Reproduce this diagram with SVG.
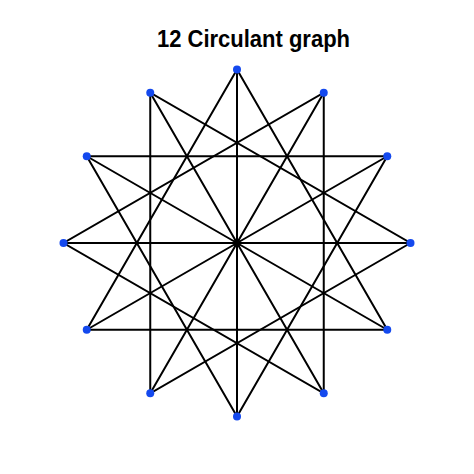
<svg xmlns="http://www.w3.org/2000/svg" width="474" height="474" viewBox="0 0 474 474">
<style>
.e{stroke:#000;stroke-width:2;fill:none;stroke-linecap:round}
.v{fill:#1449ee}
.t{font-family:"Liberation Sans",Arial,sans-serif;font-weight:bold;font-size:23px;fill:#000}
</style>
<rect width="474" height="474" fill="#fff"/>
<text class="t" x="253.5" y="47" text-anchor="middle" textLength="193" lengthAdjust="spacingAndGlyphs">12 Circulant graph</text>
<g id="edges">
<path class="e" d="M237,69.5L387.26,329.75L86.74,329.75Z"/>
<path class="e" d="M323.75,92.74L323.75,393.26L63.5,243Z"/>
<path class="e" d="M387.26,156.25L237,416.5L86.74,156.25Z"/>
<path class="e" d="M410.5,243L150.25,393.26L150.25,92.74Z"/>
<path class="e" d="M237,69.5L237,416.5M323.75,92.74L150.25,393.26M387.26,156.25L86.74,329.75M410.5,243L63.5,243M387.26,329.75L86.74,156.25M323.75,393.26L150.25,92.74"/>
</g>
<g id="n0"><circle class="v" cx="237" cy="69.5" r="4"/></g>
<g id="n1"><circle class="v" cx="323.75" cy="92.74" r="4"/></g>
<g id="n2"><circle class="v" cx="387.26" cy="156.25" r="4"/></g>
<g id="n3"><circle class="v" cx="410.5" cy="243" r="4"/></g>
<g id="n4"><circle class="v" cx="387.26" cy="329.75" r="4"/></g>
<g id="n5"><circle class="v" cx="323.75" cy="393.26" r="4"/></g>
<g id="n6"><circle class="v" cx="237" cy="416.5" r="4"/></g>
<g id="n7"><circle class="v" cx="150.25" cy="393.26" r="4"/></g>
<g id="n8"><circle class="v" cx="86.74" cy="329.75" r="4"/></g>
<g id="n9"><circle class="v" cx="63.5" cy="243" r="4"/></g>
<g id="n10"><circle class="v" cx="86.74" cy="156.25" r="4"/></g>
<g id="n11"><circle class="v" cx="150.25" cy="92.74" r="4"/></g>
</svg>
